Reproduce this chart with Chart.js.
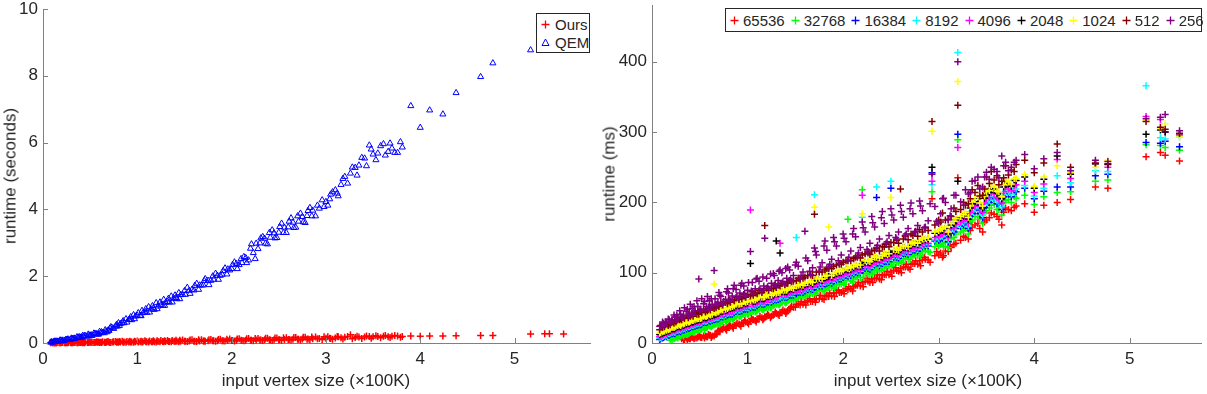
<!DOCTYPE html>
<html>
<head>
<meta charset="utf-8">
<script src="https://cdn.jsdelivr.net/npm/chart.js@4.4.0/dist/chart.umd.min.js"></script>
<style>
html, body { margin: 0; padding: 0; background: #fff; }
#wrap { position: relative; width: 1207px; height: 394px; overflow: hidden;
        font-family: "Liberation Sans", Arial, sans-serif; color: #262626; }
#wrap canvas { position: absolute; top: 0; }
#cLeft { left: 0; }
#cRight { left: 600px; }
.title { position: absolute; white-space: nowrap; font-size: 17px; line-height: 1; }
.ytitle { transform: translate(-50%, -50%) rotate(-90deg); }
.xtitle { transform: translate(-50%, -50%); }
.legend { position: absolute; box-sizing: border-box; border: 1px solid #262626; background: #fff; font-size: 15px; }
.legend .row { position: absolute; display: flex; align-items: center; white-space: nowrap; }
.legend svg { display: block; }
#legRight { display: flex; align-items: center; padding-left: 4px; }
#legRight .item { display: flex; align-items: center; margin-right: 6px; }
#legRight .item svg { margin-right: 4px; }
</style>
</head>
<body>
<div id="wrap">
  <canvas id="cLeft" width="600" height="394"></canvas>
  <canvas id="cRight" width="607" height="394"></canvas>

  <div class="title ytitle" style="left:10px; top:176px;">runtime (seconds)</div>
  <div class="title xtitle" style="left:316px; top:380px;">input vertex size (×100K)</div>
  <div class="title ytitle" style="left:609px; top:174px;">runtime (ms)</div>
  <div class="title xtitle" style="left:928px; top:380px;">input vertex size (×100K)</div>

  <div class="legend" id="legLeft" style="left:536px; top:13px; width:54px; height:40px;"></div>
  <div class="legend" id="legRight" style="left:725px; top:8px; width:477px; height:24px;"></div>
</div>

<script>
// 入力メッシュの頂点数 (×100K) - 全系列共通
// 前半98件 + 追加メッシュ86件
const vertexSize = [
  0.08, 0.11, 0.13, 0.17, 0.19, 0.23, 0.25, 0.29, 0.31, 0.34,
  0.38, 0.40, 0.43, 0.47, 0.49, 0.52, 0.56, 0.58, 0.61, 0.65,
  0.67, 0.70, 0.74, 0.79, 0.82, 0.86, 0.91, 0.94, 0.98, 1.03,
  1.06, 1.10, 1.15, 1.18, 1.22, 1.27, 1.30, 1.34, 1.39, 1.42,
  1.46, 1.51, 1.55, 1.60, 1.66, 1.70, 1.75, 1.81, 1.85, 1.90,
  1.96, 2.00, 2.05, 2.11, 2.15, 2.20, 2.26, 2.30, 2.35, 2.41,
  2.45, 2.50, 2.56, 2.60, 2.65, 2.71, 2.75, 2.80, 2.86, 2.93,
  3.00, 3.04, 3.10, 3.16, 3.20, 3.26, 3.31, 3.35, 3.41, 3.46,
  3.50, 3.55, 3.61, 3.66, 3.70, 3.76, 3.81, 3.90, 4.00, 4.10,
  4.24, 4.38, 4.64, 4.77, 5.17, 5.32, 5.37, 5.52,
  // 追加メッシュ
  0.09, 0.12, 0.15, 0.18, 0.21, 0.24, 0.27, 0.30, 0.33, 0.36,
  0.39, 0.42, 0.45, 0.48, 0.51, 0.54, 0.57, 0.60, 0.63, 0.66,
  0.69, 0.72, 0.77, 0.80, 0.84, 0.88, 0.92, 0.96, 1.00, 1.05,
  1.08, 1.12, 1.17, 1.20, 1.25, 1.28, 1.32, 1.36, 1.41, 1.44,
  1.48, 1.53, 1.58, 1.63, 1.68, 1.72, 1.78, 1.83, 1.88, 1.93,
  1.98, 2.03, 2.08, 2.13, 2.18, 2.23, 2.28, 2.33, 2.38, 2.43,
  2.48, 2.53, 2.58, 2.63, 2.68, 2.73, 2.78, 2.83, 2.89, 2.96,
  3.02, 3.07, 3.13, 3.18, 3.23, 3.28, 3.33, 3.38, 3.43, 3.48,
  3.53, 3.58, 3.63, 3.68, 3.73, 3.79
];

// 左: runtime (seconds)
const oursSec = [
  0.004, 0.005, 0.007, 0.006, 0.008, 0.010, 0.009, 0.012, 0.011, 0.013,
  0.015, 0.014, 0.017, 0.016, 0.019, 0.018, 0.021, 0.020, 0.023, 0.022,
  0.025, 0.024, 0.027, 0.028, 0.030, 0.029, 0.033, 0.032, 0.035, 0.036,
  0.038, 0.037, 0.041, 0.040, 0.044, 0.043, 0.047, 0.046, 0.050, 0.049,
  0.053, 0.054, 0.057, 0.056, 0.061, 0.060, 0.065, 0.064, 0.070, 0.068,
  0.075, 0.073, 0.079, 0.078, 0.084, 0.083, 0.090, 0.088, 0.095, 0.093,
  0.101, 0.099, 0.107, 0.104, 0.113, 0.110, 0.119, 0.116, 0.126, 0.135,
  0.142, 0.140, 0.152, 0.158, 0.170, 0.250, 0.168, 0.182, 0.178, 0.192,
  0.188, 0.196, 0.205, 0.186, 0.200, 0.207, 0.198, 0.212, 0.201, 0.209,
  0.213, 0.216, 0.221, 0.224, 0.270, 0.280, 0.278, 0.272,
  0.012, 0.002, 0.014, 0.004, 0.016, 0.006, 0.018, 0.008, 0.020, 0.010,
  0.026, 0.010, 0.028, 0.012, 0.031, 0.014, 0.034, 0.016, 0.037, 0.018,
  0.042, 0.018, 0.046, 0.020, 0.050, 0.022, 0.054, 0.025, 0.058, 0.028,
  0.064, 0.030, 0.068, 0.033, 0.072, 0.036, 0.077, 0.038, 0.082, 0.041,
  0.090, 0.044, 0.095, 0.047, 0.100, 0.050, 0.106, 0.054, 0.112, 0.058,
  0.120, 0.062, 0.125, 0.066, 0.131, 0.070, 0.137, 0.074, 0.143, 0.078,
  0.150, 0.082, 0.156, 0.087, 0.163, 0.091, 0.170, 0.096, 0.176, 0.103,
  0.184, 0.112, 0.190, 0.120, 0.196, 0.128, 0.204, 0.136, 0.210, 0.145,
  0.216, 0.155, 0.222, 0.165, 0.228, 0.175
];
const qemSec = [
  0.02, 0.03, 0.05, 0.05, 0.08, 0.07, 0.10, 0.10, 0.13, 0.13,
  0.17, 0.16, 0.20, 0.20, 0.23, 0.22, 0.27, 0.26, 0.30, 0.30,
  0.35, 0.37, 0.45, 0.50, 0.58, 0.60, 0.70, 0.69, 0.80, 0.82,
  0.90, 0.91, 1.01, 1.00, 1.10, 1.12, 1.21, 1.22, 1.33, 1.32,
  1.44, 1.45, 1.57, 1.58, 1.73, 1.73, 1.87, 1.90, 2.02, 2.05,
  2.21, 2.22, 2.37, 2.40, 2.55, 2.83, 2.98, 2.99, 3.13, 3.16,
  3.29, 3.31, 3.46, 3.47, 3.61, 3.64, 3.78, 3.81, 3.97, 4.03,
  4.23, 4.31, 4.58, 4.74, 4.98, 5.08, 5.25, 5.32, 5.53, 5.92,
  5.65, 5.68, 5.96, 5.73, 5.83, 5.70, 5.86, 7.10, 6.45, 6.97,
  6.85, 7.49, 7.97, 8.38, 8.77, null, null, null,
  0.03, 0.05, 0.05, 0.08, 0.08, 0.10, 0.11, 0.14, 0.14, 0.18,
  0.18, 0.22, 0.21, 0.26, 0.24, 0.29, 0.27, 0.34, 0.31, 0.39,
  0.38, 0.48, 0.50, 0.60, 0.60, 0.72, 0.70, 0.84, 0.82, 0.97,
  0.92, 1.08, 1.04, 1.20, 1.14, 1.30, 1.24, 1.40, 1.35, 1.50,
  1.45, 1.66, 1.60, 1.78, 1.73, 1.92, 1.87, 2.08, 2.02, 2.24,
  2.18, 2.42, 2.34, 2.58, 2.48, 2.70, 2.82, 3.18, 2.96, 3.38,
  3.15, 3.58, 3.30, 3.74, 3.46, 3.88, 3.60, 4.05, 3.80, 4.28,
  4.12, 4.52, 4.40, 4.92, 4.78, 5.26, 5.02, 5.55, 5.30, 5.80,
  5.48, 5.90, 5.62, 5.98, 5.70, 6.02
];

// 右: runtime (ms), サンプル数ごと
const sampleLabels = ['65536', '32768', '16384', '8192', '4096', '2048', '1024', '512', '256'];
const sampleColors = ['#ff0000', '#00ff00', '#0000ff', '#00ffff', '#ff00ff', '#000000', '#ffff00', '#800000', '#800080'];

const ms65536 = [
  null, null, null, null, null, null, null, null, 6, 5,
  7, 6, 8, 7, 9, 8, 10, 9, 11, 10,
  12, 18, 20, 22, 24, 25, 27, 28, 30, 31,
  33, 34, 36, 37, 39, 40, 42, 43, 45, 46,
  52, 55, 54, 58, 59, 62, 63, 67, 66, 71,
  72, 74, 76, 80, 82, 86, 88, 91, 92, 96,
  97, 101, 103, 106, 108, 112, 113, 117, 119, 205,
  125, 122, 130, 140, 235, 152, 148, 165, 170, 158,
  175, 185, 180, 168, 192, 188, 195, 198, 186, 196,
  200, 204, 222, 220, 265, 271, 267, 259,
  null, null, null, null, null, null, null, null, 5, 7,
  6, 8, 7, 9, 8, 10, 9, 11, 10, 12,
  17, 20, 20, 23, 23, 26, 26, 29, 29, 33,
  32, 35, 35, 38, 38, 41, 41, 44, 44, 48,
  51, 56, 55, 60, 59, 63, 63, 68, 67, 72,
  72, 77, 77, 82, 81, 87, 86, 92, 91, 97,
  97, 103, 102, 108, 107, 113, 112, 118, 118, 124,
  128, 131, 136, 142, 146, 150, 160, 168, 163, 172,
  178, 183, 176, 186, 190, 193
];
const ms32768 = [
  null, null, null, null, 4, 6, 8, 9, 11, 12,
  13, 15, 16, 18, 19, 20, 22, 23, 24, 26,
  27, 28, 30, 33, 34, 36, 38, 40, 41, 43,
  45, 46, 48, 50, 51, 53, 55, 56, 58, 60,
  62, 64, 66, 68, 71, 72, 75, 77, 79, 81,
  84, 86, 176, 91, 94, 218, 99, 101, 104, 107,
  109, 112, 115, 117, 120, 123, 125, 128, 131, 215,
  138, 141, 136, 150, 289, 160, 155, 175, 180, 170,
  188, 196, 190, 182, 203, 200, 206, 210, 197, 208,
  214, 215, 230, 232, 282, 281, 278, 274,
  null, null, null, null, 5, 7, 7, 10, 10, 12,
  14, 16, 17, 19, 19, 22, 22, 25, 25, 27,
  27, 30, 31, 34, 34, 38, 38, 41, 41, 45,
  44, 48, 48, 51, 51, 55, 55, 58, 58, 62,
  61, 66, 66, 70, 70, 74, 75, 79, 79, 83,
  84, 89, 89, 94, 93, 99, 98, 104, 103, 109,
  109, 115, 114, 120, 119, 125, 124, 130, 130, 137,
  140, 143, 148, 155, 158, 163, 172, 180, 176, 185,
  192, 197, 190, 200, 204, 208
];
const ms16384 = [
  5, 7, 9, 11, 12, 14, 15, 17, 18, 19,
  21, 22, 23, 25, 26, 27, 29, 30, 31, 33,
  34, 35, 37, 40, 41, 43, 45, 46, 48, 50,
  51, 53, 55, 56, 58, 60, 61, 63, 65, 66,
  68, 70, 72, 74, 77, 79, 81, 84, 86, 88,
  91, 93, 95, 98, 100, 103, 106, 108, 207, 113,
  116, 220, 122, 124, 127, 130, 132, 135, 138, 242,
  146, 149, 144, 158, 297, 168, 163, 184, 190, 178,
  196, 205, 198, 190, 212, 208, 215, 220, 205, 216,
  222, 222, 238, 240, 285, 284, 287, 279,
  6, 8, 9, 11, 13, 13, 16, 16, 18, 20,
  21, 23, 24, 26, 26, 29, 29, 32, 32, 34,
  34, 37, 38, 41, 41, 45, 45, 48, 48, 52,
  51, 55, 55, 58, 58, 62, 62, 65, 65, 68,
  68, 72, 72, 76, 76, 80, 81, 85, 85, 90,
  91, 96, 96, 101, 100, 106, 105, 111, 110, 116,
  116, 122, 121, 127, 126, 132, 131, 137, 138, 145,
  148, 151, 156, 163, 166, 171, 180, 188, 184, 193,
  200, 205, 198, 208, 212, 217
];
const ms8192 = [
  7, 9, 11, 13, 14, 16, 17, 19, 20, 21,
  23, 24, 25, 27, 28, 29, 31, 32, 33, 35,
  36, 37, 39, 42, 43, 45, 47, 48, 50, 52,
  53, 55, 57, 58, 60, 62, 63, 65, 67, 68,
  70, 150, 74, 76, 79, 211, 83, 86, 88, 90,
  93, 95, 97, 100, 102, 179, 108, 110, 222, 115,
  118, 230, 124, 126, 129, 132, 134, 137, 140, 225,
  149, 152, 147, 161, 413, 171, 166, 188, 194, 182,
  200, 209, 202, 194, 216, 212, 219, 224, 209, 220,
  238, 228, 245, 244, 366, 292, 290, 293,
  8, 10, 11, 13, 15, 15, 18, 18, 20, 22,
  23, 25, 26, 28, 28, 31, 31, 34, 34, 36,
  36, 39, 40, 43, 43, 47, 47, 50, 50, 54,
  53, 57, 57, 60, 60, 64, 64, 67, 67, 70,
  70, 74, 74, 78, 78, 82, 83, 87, 87, 92,
  93, 98, 98, 103, 102, 108, 107, 113, 112, 118,
  118, 124, 123, 129, 128, 134, 133, 139, 140, 147,
  151, 154, 159, 166, 169, 174, 183, 191, 187, 196,
  203, 208, 201, 211, 215, 220
];
const ms4096 = [
  9, 11, 13, 15, 16, 18, 19, 21, 22, 23,
  25, 26, 27, 29, 30, 31, 33, 34, 35, 37,
  38, 39, 41, 44, 45, 47, 49, 50, 52, 189,
  55, 57, 59, 60, 62, 64, 65, 142, 69, 70,
  72, 74, 76, 78, 81, 83, 85, 88, 90, 92,
  95, 97, 99, 102, 104, 210, 110, 112, 115, 117,
  120, 123, 126, 128, 131, 134, 136, 139, 142, 230,
  152, 155, 150, 164, 278, 174, 170, 192, 198, 186,
  205, 214, 207, 199, 222, 217, 225, 230, 214, 226,
  261, 234, 255, 250, 322, 318, 300, 296,
  10, 12, 13, 15, 17, 17, 20, 20, 22, 24,
  25, 27, 28, 30, 30, 33, 33, 36, 36, 38,
  38, 41, 42, 45, 45, 49, 49, 52, 52, 56,
  55, 59, 59, 62, 62, 66, 66, 69, 69, 72,
  72, 76, 76, 80, 80, 84, 85, 89, 89, 94,
  95, 100, 100, 105, 104, 110, 109, 115, 114, 120,
  120, 126, 125, 131, 130, 136, 135, 141, 142, 150,
  154, 157, 162, 169, 172, 177, 186, 194, 190, 199,
  207, 212, 205, 215, 219, 224
];
const ms2048 = [
  12, 14, 15, 17, 18, 20, 22, 24, 25, 26,
  28, 29, 30, 32, 33, 34, 36, 37, 38, 40,
  41, 43, 45, 47, 49, 51, 53, 54, 56, 113,
  59, 61, 63, 64, 66, 68, 145, 128, 73, 75,
  77, 79, 81, 83, 86, 88, 90, 93, 95, 97,
  100, 102, 104, 107, 109, 112, 115, 117, 120, 122,
  125, 128, 131, 133, 136, 139, 141, 144, 147, 250,
  157, 160, 155, 170, 230, 180, 176, 198, 205, 192,
  212, 220, 213, 205, 228, 223, 231, 236, 220, 233,
  266, 240, 255, 254, 297, 303, 300, 298,
  13, 15, 16, 18, 20, 21, 23, 23, 25, 27,
  28, 30, 31, 33, 33, 36, 36, 39, 39, 41,
  42, 45, 46, 49, 50, 53, 54, 57, 57, 61,
  59, 63, 63, 66, 66, 70, 70, 73, 73, 77,
  76, 80, 80, 84, 84, 89, 89, 94, 94, 99,
  100, 105, 105, 110, 109, 115, 114, 120, 119, 125,
  125, 131, 130, 136, 135, 141, 140, 146, 148, 156,
  160, 163, 168, 175, 178, 183, 192, 201, 196, 206,
  214, 219, 212, 222, 226, 231
];
const ms1024 = [
  14, 16, 17, 19, 20, 22, 24, 26, 27, 28,
  30, 31, 32, 34, 35, 36, 38, 39, 40, 84,
  43, 45, 47, 49, 51, 53, 55, 56, 58, 60,
  61, 63, 65, 66, 68, 70, 71, 73, 75, 77,
  79, 81, 83, 85, 88, 193, 92, 95, 165, 99,
  102, 104, 106, 109, 111, 184, 117, 119, 122, 124,
  127, 207, 133, 135, 138, 141, 143, 146, 149, 301,
  160, 163, 158, 173, 372, 183, 179, 201, 208, 195,
  215, 224, 216, 208, 231, 226, 234, 240, 223, 236,
  252, 243, 250, 260, 316, 305, 312, 293,
  15, 17, 18, 20, 22, 23, 25, 25, 27, 29,
  30, 32, 33, 35, 35, 38, 38, 41, 41, 43,
  44, 47, 48, 51, 52, 55, 56, 59, 59, 63,
  61, 65, 65, 68, 68, 72, 72, 75, 75, 79,
  78, 82, 82, 86, 86, 91, 91, 96, 96, 101,
  102, 107, 107, 112, 111, 117, 116, 122, 121, 127,
  127, 133, 132, 138, 137, 143, 142, 148, 150, 158,
  162, 165, 170, 177, 180, 186, 195, 204, 199, 209,
  217, 222, 215, 225, 229, 234
];
const ms512 = [
  19, 22, 23, 25, 26, 28, 30, 33, 33, 35,
  36, 38, 38, 41, 41, 43, 44, 46, 47, 49,
  50, 52, 54, 56, 58, 60, 62, 63, 65, 67,
  68, 70, 72, 167, 75, 77, 79, 81, 83, 85,
  87, 89, 91, 94, 97, 183, 101, 104, 106, 109,
  112, 115, 117, 120, 122, 125, 128, 131, 134, 137,
  140, 143, 146, 219, 152, 155, 158, 161, 164, 315,
  175, 185, 176, 192, 338, 200, 198, 218, 224, 210,
  236, 244, 238, 230, 252, 246, 254, 260, 242, 256,
  283, 250, 256, 255, 315, 307, 304, 298,
  25, 27, 28, 30, 32, 33, 35, 35, 37, 39,
  40, 42, 43, 45, 45, 48, 48, 51, 51, 53,
  54, 57, 58, 61, 62, 65, 66, 69, 69, 73,
  71, 75, 75, 78, 78, 82, 82, 85, 85, 89,
  88, 92, 92, 96, 96, 101, 101, 106, 106, 111,
  112, 117, 117, 122, 121, 127, 126, 132, 131, 137,
  137, 143, 142, 148, 147, 153, 152, 158, 160, 168,
  172, 175, 180, 187, 190, 196, 205, 214, 209, 219,
  227, 232, 225, 235, 239, 244
];
const ms256 = [
  24, 30, 25, 34, 28, 40, 33, 46, 36, 50,
  39, 55, 41, 60, 91, 63, 47, 66, 50, 103,
  53, 72, 56, 77, 60, 82, 64, 85, 67, 130,
  70, 92, 74, 149, 77, 99, 80, 104, 84, 108,
  88, 115, 91, 159, 97, 135, 102, 145, 108, 150,
  113, 155, 118, 163, 124, 172, 130, 180, 136, 187,
  142, 191, 148, 196, 153, 199, 158, 202, 165, 240,
  170, 205, 175, 210, 400, 196, 212, 230, 236, 222,
  243, 250, 244, 266, 257, 250, 260, 268, 248, 262,
  271, 245, 260, 258, 319, 321, 325, 302,
  24, 28, 28, 33, 33, 37, 36, 41, 39, 45,
  42, 49, 46, 52, 48, 56, 52, 60, 55, 63,
  58, 66, 62, 71, 67, 76, 71, 81, 75, 86,
  77, 88, 81, 92, 85, 96, 89, 100, 92, 104,
  96, 109, 101, 117, 107, 125, 114, 132, 119, 138,
  125, 144, 131, 151, 136, 158, 142, 165, 148, 170,
  153, 175, 158, 179, 163, 184, 167, 188, 174, 194,
  184, 200, 191, 210, 201, 218, 214, 231, 219, 236,
  233, 247, 235, 252, 245, 257
];
const sampleSeries = [ms65536, ms32768, ms16384, ms8192, ms4096, ms2048, ms1024, ms512, ms256];

// 追加計測 (一部の系列のみ)
const extraSize = [
  0.10, 0.14, 0.20, 0.26, 0.32, 0.37, 0.41, 0.44, 0.50, 0.55,
  0.59, 0.62, 0.68, 0.71, 0.75, 0.78, 0.81, 0.85, 0.89, 0.93,
  0.97, 1.01, 1.04, 1.09, 1.13, 1.16, 1.21, 1.24, 1.29, 1.33,
  1.37, 1.40, 1.45, 1.50, 1.56, 1.61, 1.65, 1.71, 1.76, 1.80,
  1.86, 1.91, 1.95, 2.01, 2.06, 2.10, 2.16, 2.21, 2.25, 2.31,
  2.36, 2.40, 2.46, 2.51, 2.55, 2.61, 2.66, 2.70, 2.76, 2.81,
  2.85, 2.91, 2.98, 3.05, 3.12
];
const oursSecExtra = [
  0.008, 0.003, 0.012, 0.005, 0.016, 0.008, 0.021, 0.010, 0.025, 0.013,
  0.030, 0.015, 0.034, 0.018, 0.038, 0.021, 0.042, 0.024, 0.047, 0.027,
  0.052, 0.030, 0.056, 0.034, 0.061, 0.037, 0.066, 0.040, 0.071, 0.044,
  0.076, 0.047, 0.082, 0.051, 0.089, 0.056, 0.095, 0.060, 0.101, 0.064,
  0.108, 0.069, 0.114, 0.074, 0.121, 0.079, 0.128, 0.084, 0.134, 0.090,
  0.141, 0.095, 0.148, 0.101, 0.155, 0.107, 0.162, 0.113, 0.169, 0.119,
  0.176, 0.126, 0.185, 0.135, 0.195
];
const qemSecExtra = [
  0.02, 0.05, 0.06, 0.11, 0.12, 0.17, 0.17, 0.22, 0.21, 0.28,
  0.26, 0.33, 0.33, 0.44, 0.43, 0.55, 0.52, 0.66, 0.62, 0.78,
  0.72, 0.90, 0.81, 1.02, 0.92, 1.11, 1.02, 1.22, 1.12, 1.33,
  1.22, 1.43, 1.32, 1.56, 1.48, 1.72, 1.60, 1.86, 1.74, 2.00,
  1.90, 2.16, 2.06, 2.34, 2.22, 2.52, 2.40, 2.96, 2.52, 3.14,
  2.98, 3.30, 3.14, 3.48, 3.30, 3.64, 3.45, 3.80, 3.62, 3.96,
  3.80, 4.12, 4.08, 4.45, 4.48
];
const ms65536Extra = [
  null, null, null, null, 8, 5, 9, 6, 10, 7,
  12, 8, 13, 16, 22, 18, 25, 21, 28, 24,
  32, 27, 35, 30, 38, 33, 41, 36, 44, 39,
  47, 42, 50, 51, 59, 54, 63, 58, 68, 62,
  71, 66, 75, 70, 80, 74, 86, 80, 92, 86,
  97, 90, 102, 95, 107, 100, 112, 105, 117, 110,
  122, 115, 130, 124, 138
];
const ms32768Extra = [
  null, null, 7, 9, 13, 12, 17, 15, 22, 19,
  26, 23, 30, 27, 34, 31, 37, 34, 41, 38,
  45, 41, 48, 45, 51, 47, 55, 50, 58, 54,
  61, 57, 65, 61, 70, 66, 74, 70, 79, 74,
  83, 78, 88, 83, 93, 87, 99, 93, 104, 98,
  109, 103, 114, 109, 119, 114, 125, 119, 130, 124,
  135, 129, 143, 137, 150
];
const ms256Extra = [
  24, 30, 30, 40, 37, 48, 41, 52, 46, 59,
  51, 63, 55, 68, 59, 73, 62, 77, 66, 82,
  70, 86, 74, 91, 77, 94, 80, 98, 84, 102,
  87, 106, 90, 111, 96, 121, 102, 130, 108, 138,
  112, 144, 117, 149, 122, 155, 128, 164, 133, 171,
  139, 178, 144, 182, 150, 187, 155, 191, 159, 195,
  164, 198, 173, 206, 181
];
// 系列インデックス -> 追加計測
const sampleExtras = { 0: ms65536Extra, 1: ms32768Extra, 8: ms256Extra };

// 軸設定
const leftTicksY = [0, 2, 4, 6, 8, 10];
const rightTicksY = [0, 100, 200, 300, 400];
const ticksX = [0, 1, 2, 3, 4, 5];

const AXIS_COLOR = '#808080';
const TEXT_COLOR = '#262626';
const FONT = '"Liberation Sans", Arial, sans-serif';

function toPoints(xs, values) {
  return xs.map((x, i) => ({ x: x, y: values[i] })).filter(p => p.y !== null && p.y !== undefined);
}

// MATLAB風の内向き目盛り
const inwardTicks = {
  id: 'inwardTicks',
  afterDraw(chart) {
    const { ctx, chartArea, scales } = chart;
    ctx.save();
    ctx.strokeStyle = AXIS_COLOR;
    ctx.lineWidth = 1;
    ctx.beginPath();
    scales.x.ticks.forEach(t => {
      const px = Math.round(scales.x.getPixelForValue(t.value)) + 0.5;
      ctx.moveTo(px, chartArea.bottom);
      ctx.lineTo(px, chartArea.bottom - 5);
    });
    scales.y.ticks.forEach(t => {
      const py = Math.round(scales.y.getPixelForValue(t.value)) + 0.5;
      ctx.moveTo(chartArea.left, py);
      ctx.lineTo(chartArea.left + 5, py);
    });
    ctx.stroke();
    ctx.restore();
  }
};

function axisOptions(max, tickValues, fitKey, fitSize) {
  return {
    type: 'linear',
    min: 0,
    max: max,
    afterBuildTicks: s => { s.ticks = tickValues.map(v => ({ value: v })); },
    afterFit: s => {
      s[fitKey] = fitSize;
      s.paddingTop = 0; s.paddingBottom = 0; s.paddingLeft = 0; s.paddingRight = 0;
    },
    grid: { display: true, drawOnChartArea: false, drawTicks: false },
    border: { display: true, color: AXIS_COLOR, width: 1 },
    ticks: { color: TEXT_COLOR, font: { family: FONT, size: 17 }, padding: fitKey === 'height' ? 6 : 5, maxRotation: 0 }
  };
}

function baseOptions(xMax, yMax, yTicks, yWidth, padding) {
  return {
    responsive: false,
    animation: false,
    events: [],
    layout: { padding: padding },
    plugins: { legend: { display: false }, tooltip: { enabled: false } },
    scales: {
      x: axisOptions(xMax, ticksX, 'height', 51),
      y: axisOptions(yMax, yTicks, 'width', yWidth)
    }
  };
}

// 左グラフ: Ours vs QEM
new Chart(document.getElementById('cLeft'), {
  type: 'scatter',
  data: {
    datasets: [
      { label: 'Ours', data: toPoints(vertexSize, oursSec).concat(toPoints(extraSize, oursSecExtra)),
        order: 1, clip: false, pointStyle: 'cross', radius: 3.5,
        borderColor: '#ff0000', borderWidth: 1.5, backgroundColor: '#ff0000' },
      { label: 'QEM', data: toPoints(vertexSize, qemSec).concat(toPoints(extraSize, qemSecExtra)),
        order: 0, clip: false, pointStyle: 'triangle', radius: 3.5,
        borderColor: '#0000ff', borderWidth: 1, backgroundColor: 'rgba(255,255,255,0)' }
    ]
  },
  options: baseOptions(5.8, 10, leftTicksY, 43, { left: 0, top: 9, right: 10, bottom: 0 }),
  plugins: [inwardTicks]
});

// 右グラフ: サンプル数別
new Chart(document.getElementById('cRight'), {
  type: 'scatter',
  data: {
    datasets: sampleSeries.map((vals, i) => ({
      label: sampleLabels[i],
      data: toPoints(vertexSize, vals).concat(sampleExtras[i] ? toPoints(extraSize, sampleExtras[i]) : []),
      order: sampleSeries.length - 1 - i,
      clip: false,
      pointStyle: 'cross',
      radius: 3.5,
      borderWidth: 1.5,
      borderColor: sampleColors[i],
      backgroundColor: sampleColors[i]
    }))
  },
  options: baseOptions(5.75, 480, rightTicksY, 52, { left: 0, top: 4, right: 2, bottom: 0 }),
  plugins: [inwardTicks]
});

// 凡例 (HTML)
function crossSvg(color) {
  return `<svg width="9" height="9"><path d="M4.5 0.5V8.5M0.5 4.5H8.5" stroke="${color}" stroke-width="1.3"/></svg>`;
}
function triSvg(color) {
  return `<svg width="9" height="9"><path d="M4.5 1L8 7.5H1Z" fill="none" stroke="${color}" stroke-width="1"/></svg>`;
}

const legLeft = document.getElementById('legLeft');
legLeft.innerHTML =
  `<div class="row" style="left:4px; top:2px; height:17px;">${crossSvg('#ff0000')}<span style="margin-left:5px">Ours</span></div>` +
  `<div class="row" style="left:4px; top:20px; height:17px;">${triSvg('#0000ff')}<span style="margin-left:5px">QEM</span></div>`;

document.getElementById('legRight').innerHTML = sampleLabels.map((lab, i) =>
  `<div class="item">${crossSvg(sampleColors[i])}<span>${lab}</span></div>`
).join('');
</script>
</body>
</html>
